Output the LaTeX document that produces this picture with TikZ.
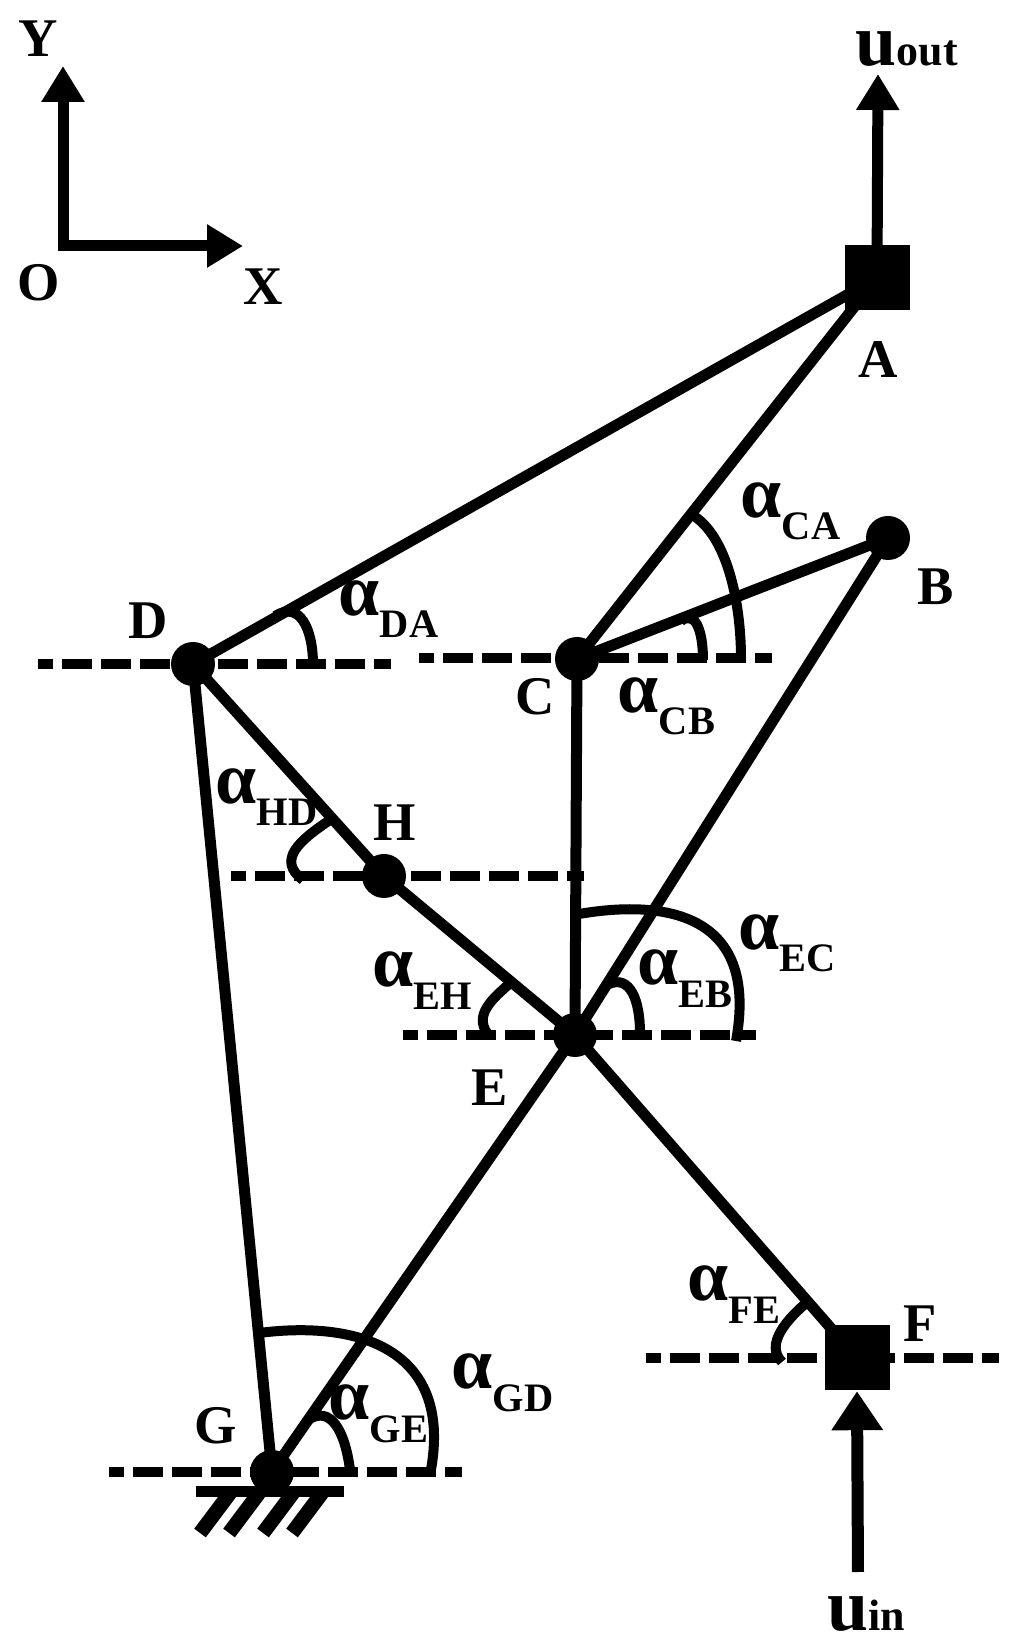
\documentclass[tikz,border=0pt]{standalone}
\usepackage{fontspec}
\setmainfont{Liberation Serif}
\usetikzlibrary{arrows.meta}
\usetikzlibrary{calc}

\tikzset{
    bar/.style={black, line width=1.1mm},
    refline/.style={black, line width=1.05mm, dash pattern=on 3mm off 0.9mm, dash phase=1.5mm},
    anglemark/.style={black, line width=1mm},
    joint/.style={circle, fill=black, inner sep=0pt, minimum size=4.4mm},
    slider/.style={rectangle, fill=black, inner sep=0pt, minimum width=6.5mm, minimum height=6.5mm},
    pointlabel/.style={font=\fontsize{15.5}{18}\selectfont\bfseries, inner sep=0pt},
    anglelabel/.style={anchor=base west, inner sep=0pt},
    thrust/.style={black, line width=1.1mm, -{Triangle[length=3.6mm, width=4.1mm]}}
}
% alpha with a lowered subscript
\newcommand{\anglename}[1]{{\bfseries\fontsize{21}{24}\selectfont α\raisebox{-2.2mm}{\fontsize{11.5}{14}\selectfont #1}}}
\newcommand{\forcename}[2]{{\bfseries\fontsize{21}{24}\selectfont #1\fontsize{12.5}{14}\selectfont #2}}

\begin{document}
\begin{tikzpicture}
    \useasboundingbox (0,0) rectangle (10.26,16.5);
    % joints
    \node[slider] (A) at (8.77,13.72) {};
    \node[joint] (B) at (8.88,11.12) {};
    \node[joint] (C) at (5.77,9.91) {};
    \node[joint] (D) at (1.93,9.86) {};
    \node[joint] (E) at (5.75,6.15) {};
    \node[slider] (F) at (8.57,2.92) {};
    \node[joint] (G) at (2.72,1.78) {};
    \node[joint] (H) at (3.84,7.74) {};
    % horizontal reference lines
    \coordinate (Dl) at (0.38,9.86);
    \coordinate (Dr) at (3.91,9.86);
    \coordinate (Cl) at (4.19,9.92);
    \coordinate (Cr) at (7.72,9.92);
    \coordinate (Hl) at (2.31,7.74);
    \coordinate (Hr) at (5.84,7.74);
    \coordinate (El) at (4.03,6.15);
    \coordinate (Er) at (7.56,6.15);
    \coordinate (Fl) at (6.46,2.92);
    \coordinate (Fr) at (9.99,2.92);
    \coordinate (Gl) at (1.09,1.78);
    \coordinate (Gr) at (4.62,1.78);
    \foreach \n in {D,C,H,E,F,G}
        \draw[refline] (\n l) -- (\n r);
    % links
    \draw[bar] (D.center) -- (A.center);
    \draw[bar] (C.center) -- (A.center);
    \draw[bar] (C.center) -- (B.center);
    \draw[bar] (E.center) -- (B.center);
    \draw[bar] (E.center) -- (C.center);
    \draw[bar] (D.center) -- (H.center);
    \draw[bar] (H.center) -- (E.center);
    \draw[bar] (E.center) -- (F.center);
    \draw[bar] (G.center) -- (E.center);
    \draw[bar] (G.center) -- (D.center);
    % angle marks
    \draw[anglemark] (2.75,10.34) .. controls (3.0,10.5) and (3.13,10.2) .. (3.13,9.86);
    \draw[anglemark] (6.81,10.29) .. controls (6.95,10.4) and (7.03,10.2) .. (7.03,9.90);
    \draw[anglemark] (6.94,11.34) .. controls (7.3,11.1) and (7.41,10.4) .. (7.41,9.92);
    \draw[anglemark] (3.30,8.30) .. controls (3.0,8.1) and (2.76,7.9) .. (3.03,7.70);
    \draw[anglemark] (5.14,6.70) .. controls (4.9,6.5) and (4.75,6.35) .. (4.87,6.17);
    \draw[anglemark] (6.09,6.66) .. controls (6.3,6.75) and (6.4,6.5) .. (6.40,6.17);
    \draw[anglemark] (5.79,7.36) .. controls (6.6,7.5) and (7.6,7.4) .. (7.36,6.09);
    \draw[anglemark] (8.11,3.51) .. controls (7.85,3.3) and (7.65,3.05) .. (7.82,2.88);
    \draw[anglemark] (3.08,2.30) .. controls (3.3,2.45) and (3.45,2.2) .. (3.50,1.80);
    \draw[anglemark] (2.59,3.17) .. controls (3.6,3.3) and (4.55,3.0) .. (4.30,1.75);
    % ground
    \coordinate (groundl) at (1.96,1.58);
    \coordinate (groundr) at (3.44,1.58);
    \draw[bar] (groundl) -- (groundr);
    \foreach \x in {2.00,2.29,2.63,2.92}
        \draw[black, line width=1.45mm] (\x,1.17) -- ++(0.30,0.40);
    % axes
    \coordinate (O) at (0.63,14.04);
    \coordinate (Xtip) at (2.43,14.04);
    \coordinate (Ytip) at (0.63,15.84);
    \draw[thrust, {Triangle[length=3.6mm, width=4.1mm]}-{Triangle[length=3.6mm, width=4.1mm]}] (Ytip) -- (O) -- (Xtip);
    % input and output
    \coordinate (Utop) at (8.78,15.76);
    \coordinate (Ubot) at (8.58,0.78);
    \draw[thrust] (A.center) -- (Utop);
    \draw[black, line width=1.2mm, -{Triangle[length=3.9mm, width=4.9mm]}] (Ubot) -- (F.south);
    % point labels
    \node[pointlabel] (lY) at (0.38,16.11) {Y};
    \node[pointlabel] (lO) at (0.39,13.67) {O};
    \node[pointlabel] (lX) at (2.63,13.63) {X};
    \node[pointlabel] (lA) at (8.78,12.90) {A};
    \node[pointlabel] (lB) at (9.36,10.63) {B};
    \node[pointlabel] (lC) at (5.35,9.53) {C};
    \node[pointlabel] (lD) at (1.48,10.29) {D};
    \node[pointlabel] (lE) at (4.90,5.62) {E};
    \node[pointlabel] (lF) at (9.20,3.26) {F};
    \node[pointlabel] (lG) at (2.16,2.24) {G};
    \node[pointlabel] (lH) at (3.95,8.27) {H};
    % angle labels
    \node[anglelabel] (aCA) at (7.40,11.32) {\anglename{CA}};
    \node[anglelabel] (aDA) at (3.38,10.34) {\anglename{DA}};
    \node[anglelabel] (aCB) at (6.17,9.37) {\anglename{CB}};
    \node[anglelabel] (aHD) at (2.15,8.46) {\anglename{HD}};
    \node[anglelabel] (aEH) at (3.72,6.63) {\anglename{EH}};
    \node[anglelabel] (aEB) at (6.37,6.65) {\anglename{EB}};
    \node[anglelabel] (aEC) at (7.38,7.00) {\anglename{EC}};
    \node[anglelabel] (aFE) at (6.87,3.49) {\anglename{FE}};
    \node[anglelabel] (aGE) at (3.28,2.30) {\anglename{GE}};
    \node[anglelabel] (aGD) at (4.51,2.61) {\anglename{GD}};
    % u labels
    \node[anglelabel] (uout) at (8.55,15.84) {\forcename{u}{out}};
    \node[anglelabel] (uin) at (8.27,0.20) {\forcename{u}{in}};
\end{tikzpicture}
\end{document}
